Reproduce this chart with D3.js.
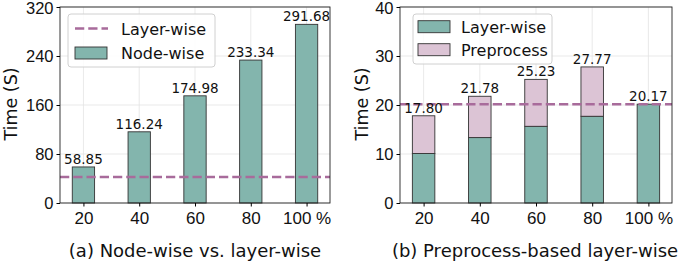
<!DOCTYPE html>
<html>
<head>
<meta charset="utf-8">
<script src="https://cdn.jsdelivr.net/npm/d3@7"></script>
<style>
  body { margin: 0; background: #fff; }
  svg { display: block; font-family: "DejaVu Sans", sans-serif; }
</style>
</head>
<body>
<svg id="chart" width="685" height="262"></svg>
<script>
var categories = ['20', '40', '60', '80', '100 %'];

// (a) node-wise vs layer-wise
var nodeWise = [58.85, 116.24, 174.98, 233.34, 291.68];
var layerWiseLineA = 42.5;
var ticksA = [0, 80, 160, 240, 320];

// (b) preprocess-based layer-wise
var layerWiseB = [10.1, 13.35, 15.65, 17.7, 20.17];
var totalsB = [17.80, 21.78, 25.23, 27.77, 20.17];
var preprocessB = totalsB.map(function(t, i){ return t - layerWiseB[i]; });
var layerWiseLineB = 20.17;
var ticksB = [0, 10, 20, 30, 40];

var GREEN = '#83b5ad', PINK = '#dcc4d5', DASH = '#a86b9b', EDGE = '#333';

var svg = d3.select('#chart');

function panel(opt){
	var g = svg.append('g');
	var x = d3.scaleLinear().domain([-0.42, 4.42]).range([opt.left, opt.right]);
	var y = d3.scaleLinear().domain(opt.domain).range([203, 7]);
	var bw = x(0.4) - x(0);

	// grid
	g.selectAll('.vg').data(categories).enter().append('line')
		.attr('x1', function(d, i){ return x(i); })
		.attr('x2', function(d, i){ return x(i); })
		.attr('y1', y.range()[0]).attr('y2', y.range()[1])
		.style('stroke', '#e3e3e3').style('stroke-width', 0.8);
	g.selectAll('.hg').data(opt.ticks).enter().append('line')
		.attr('x1', opt.left).attr('x2', opt.right)
		.attr('y1', function(d){ return y(d); })
		.attr('y2', function(d){ return y(d); })
		.style('stroke', '#e3e3e3').style('stroke-width', 0.8);

	// bars
	opt.stacks.forEach(function(s){
		g.selectAll(null).data(s.values).enter().append('rect')
			.attr('x', function(d, i){ return x(i) - bw / 2; })
			.attr('y', function(d, i){ return y(s.base[i] + d); })
			.attr('width', bw)
			.attr('height', function(d, i){ return y(s.base[i]) - y(s.base[i] + d); })
			.style('fill', s.color)
			.style('stroke', EDGE)
			.style('stroke-width', 0.9)
			.style('display', function(d){ return d > 0 ? null : 'none'; });
	});

	// dashed line
	g.append('line')
		.attr('x1', opt.left).attr('x2', opt.right)
		.attr('y1', y(opt.line)).attr('y2', y(opt.line))
		.style('stroke', DASH).style('stroke-width', 2.5)
		.style('stroke-dasharray', '9.25,4');

	// value labels
	g.selectAll('.val').data(opt.labels).enter().append('text')
		.attr('x', function(d, i){ return x(i); })
		.attr('y', function(d){ return y(d) - 3; })
		.attr('text-anchor', 'middle')
		.style('font-size', '13.5px')
		.style('fill', '#111')
		.text(function(d){ return d.toFixed(2); });

	// frame
	g.append('rect')
		.attr('x', opt.left).attr('y', 7)
		.attr('width', opt.right - opt.left).attr('height', 196)
		.style('fill', 'none').style('stroke', '#222').style('stroke-width', 0.9);

	// axes
	var yAxis = d3.axisLeft(y).tickValues(opt.ticks).tickSize(3.5).tickPadding(3);
	var ya = g.append('g').attr('transform', 'translate(' + opt.left + ',0)').call(yAxis);
	ya.select('.domain').remove();
	ya.selectAll('text').style('font-size', '16.5px').style('fill', '#111').attr('font-family', null);
	// keep the top label inside the picture
	ya.selectAll('text').filter(function(d){ return d === opt.domain[1]; }).attr('dy', '0.42em');

	var xAxis = d3.axisBottom(x).tickValues(d3.range(5))
		.tickFormat(function(d){ return categories[d]; }).tickSize(3.5).tickPadding(5);
	var xa = g.append('g').attr('transform', 'translate(0,203)').call(xAxis);
	xa.select('.domain').remove();
	xa.selectAll('text').style('font-size', '17px').style('fill', '#111').attr('font-family', null);

	// y title
	g.append('text')
		.attr('transform', 'translate(' + opt.titleX + ',104) rotate(-90)')
		.attr('text-anchor', 'middle')
		.style('font-size', '17.5px').style('fill', '#111')
		.text('Time (S)');

	// caption
	g.append('text')
		.attr('x', opt.captionX).attr('y', 257)
		.attr('text-anchor', 'middle')
		.style('font-size', '18px').style('fill', '#111')
		.text(opt.caption);

	// legend
	var L = opt.legend;
	var lg = g.append('g');
	lg.append('rect')
		.attr('x', L.x).attr('y', 14)
		.attr('width', L.w).attr('height', L.h)
		.attr('rx', 3)
		.style('fill', 'rgba(255,255,255,0.85)').style('stroke', '#d0d0d0');
	L.items.forEach(function(it, i){
		var cy = L.cy0 + i * L.dy;
		var lx = L.x + L.pad;
		if (it.type === 'line') {
			lg.append('line')
				.attr('x1', lx).attr('x2', lx + 33)
				.attr('y1', cy).attr('y2', cy)
				.style('stroke', DASH).style('stroke-width', 2.5)
				.style('stroke-dasharray', '9.25,4');
		} else {
			lg.append('rect')
				.attr('x', lx).attr('y', cy - 6)
				.attr('width', 32).attr('height', 12)
				.style('fill', it.color).style('stroke', EDGE).style('stroke-width', 0.9);
		}
		lg.append('text')
			.attr('x', lx + L.tx).attr('y', cy + 6)
			.style('font-size', '16px').style('fill', '#111')
			.text(it.label);
	});
}

panel({
	left: 60, right: 330,
	domain: [0, 320], ticks: ticksA,
	stacks: [{ values: nodeWise, base: [0, 0, 0, 0, 0], color: GREEN }],
	line: layerWiseLineA,
	labels: nodeWise,
	titleX: 17, captionX: 195,
	caption: '(a) Node-wise vs. layer-wise',
	legend: { x: 68, w: 147, h: 53, pad: 7, tx: 46, cy0: 28.5, dy: 24.5, items: [
		{ type: 'line', label: 'Layer-wise' },
		{ type: 'rect', color: GREEN, label: 'Node-wise' }
	]}
});

panel({
	left: 400, right: 672,
	domain: [0, 40], ticks: ticksB,
	stacks: [
		{ values: layerWiseB, base: [0, 0, 0, 0, 0], color: GREEN },
		{ values: preprocessB, base: layerWiseB, color: PINK }
	],
	line: layerWiseLineB,
	labels: totalsB,
	titleX: 368, captionX: 535,
	caption: '(b) Preprocess-based layer-wise',
	legend: { x: 413, w: 139, h: 50, pad: 5, tx: 43, cy0: 26.7, dy: 23, items: [
		{ type: 'rect', color: GREEN, label: 'Layer-wise' },
		{ type: 'rect', color: PINK, label: 'Preprocess' }
	]}
});
</script>
</body>
</html>
